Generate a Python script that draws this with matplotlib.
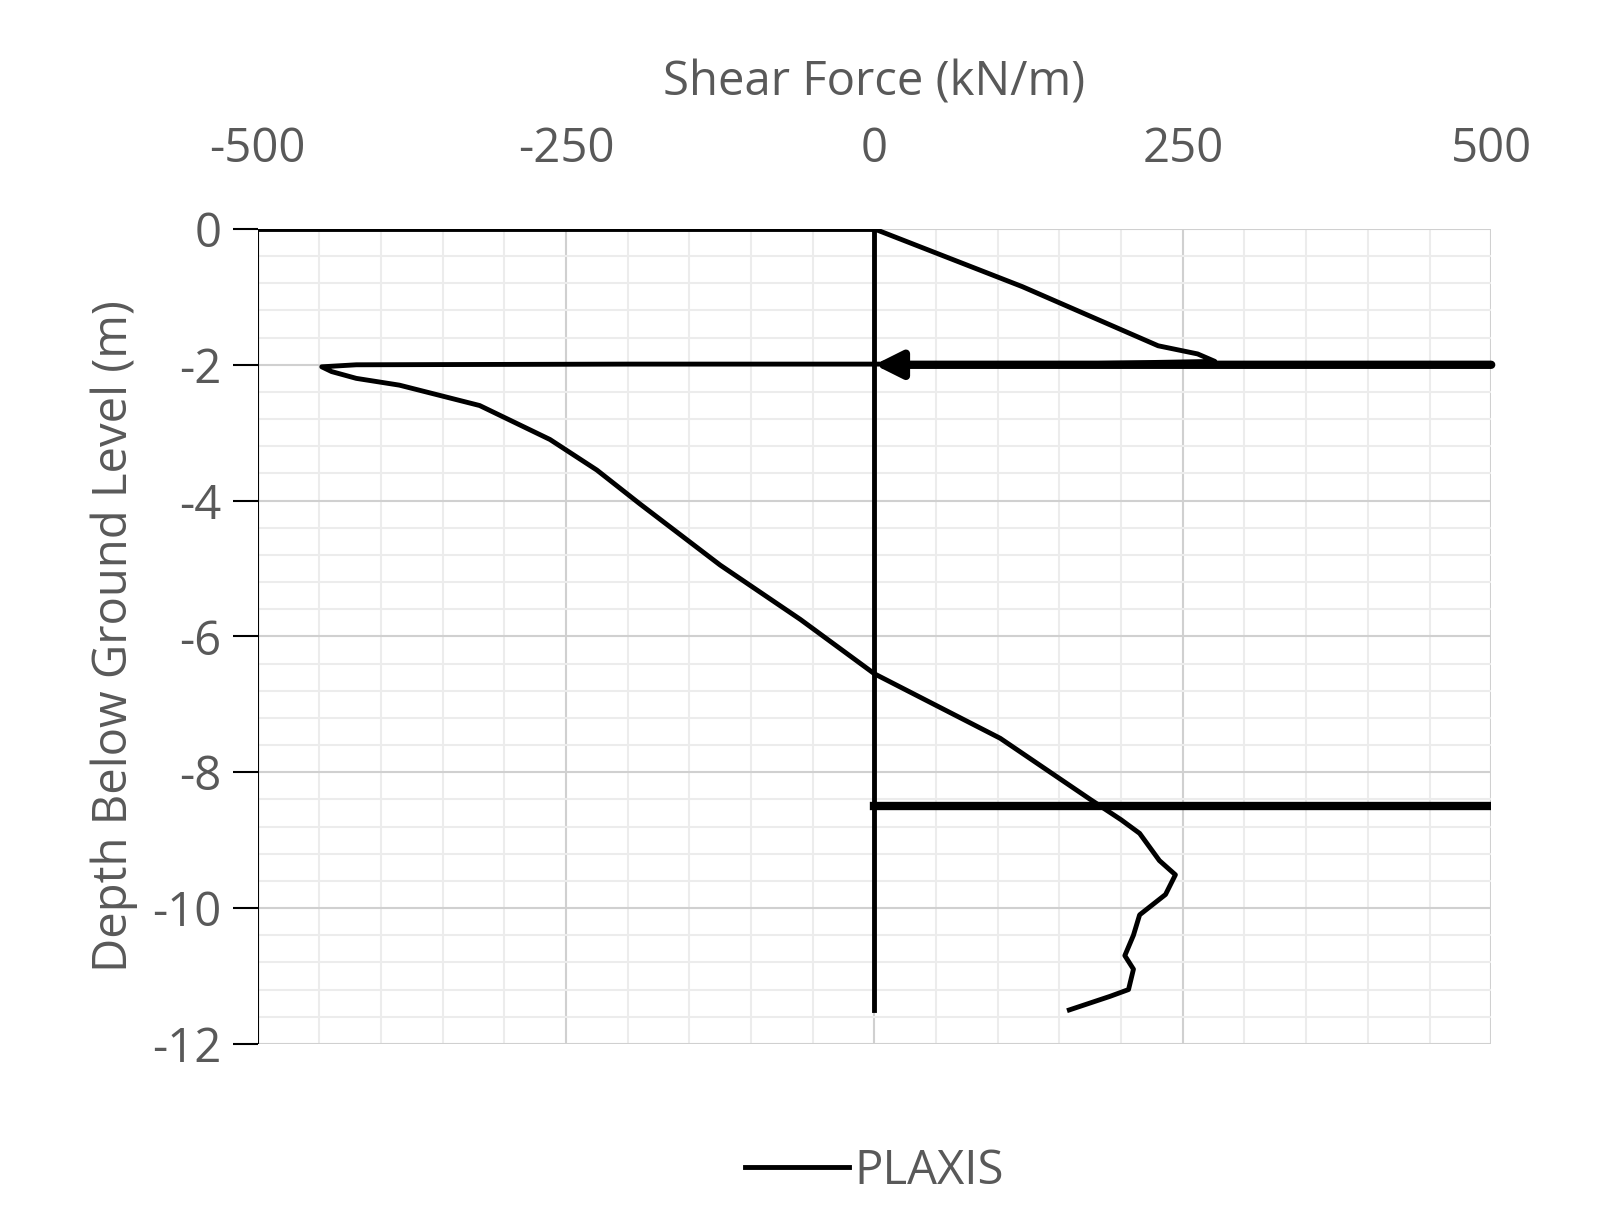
import numpy as np
import matplotlib.pyplot as plt
from matplotlib.ticker import MultipleLocator

plt.rcParams['font.family'] = ['Open Sans', 'DejaVu Sans']
plt.rcParams['axes.unicode_minus'] = False

# PLAXIS shear force profile (kN/m) vs depth (m)
shear = [0, 120, 230, 262, 276, 150, -200, -420, -448, -440, -420, -385, -320, -263,
         -225, -190, -125, -60, 0, 102, 175, 200, 215, 231, 244, 236, 215, 210, 203,
         210, 206, 191, 158]
depth = [0, -0.85, -1.72, -1.84, -1.95, -1.99, -1.99, -2.0, -2.03, -2.1, -2.2, -2.3,
         -2.6, -3.1, -3.55, -4.05, -4.95, -5.75, -6.55, -7.5, -8.4, -8.7, -8.9, -9.3,
         -9.51, -9.8, -10.1, -10.4, -10.7, -10.9, -11.2, -11.3, -11.5]

# structure outline
ground_x = [-500, 0]
ground_y = [0, 0]
wall_x = [0, 0]
wall_y = [0, -11.5]
strut_depth = -2
base_depth = -8.5

grey = '#595959'
fig, ax = plt.subplots(figsize=(16, 12.31), dpi=100)
fig.subplots_adjust(left=0.161, right=0.932, top=0.814, bottom=0.152)

ax.plot(shear, depth, color='black', lw=3.5, label='PLAXIS')
ax.plot(ground_x, ground_y, color='black', lw=3.5)
ax.plot(wall_x, wall_y, color='black', lw=3.5)
ax.plot([0, 500], [base_depth, base_depth], color='black', lw=6)
ax.annotate('', xy=(0, strut_depth), xytext=(500, strut_depth),
            arrowprops=dict(arrowstyle='-|>,head_length=1.6,head_width=0.8',
                            color='black', lw=6, shrinkA=0, shrinkB=0))

ax.set_xlim(-500, 500)
ax.set_ylim(-12, 0)
ax.xaxis.tick_top()
ax.xaxis.set_label_position('top')
ax.xaxis.set_major_locator(MultipleLocator(250))
ax.xaxis.set_minor_locator(MultipleLocator(50))
ax.yaxis.set_major_locator(MultipleLocator(2))
ax.yaxis.set_minor_locator(MultipleLocator(0.4))
ax.grid(which='major', color='#d0d0d0', lw=1.5)
ax.grid(which='minor', color='#ececec', lw=1.5)
ax.set_axisbelow(True)
for s in ax.spines.values():
    s.set_visible(False)
ax.tick_params(which='both', length=0, labelsize=34, colors=grey)
ax.tick_params(axis='x', which='major', pad=40)
ax.tick_params(axis='y', which='major', length=18, width=1.5, color='black', pad=8)
ax.axvline(-500, color='black', lw=1.5, zorder=1)
ax.set_xlabel('Shear Force (kN/m)', fontsize=34, color=grey, labelpad=22)
ax.set_ylabel('Depth Below Ground Level (m)', fontsize=34, color=grey, labelpad=10)

ax.legend(loc='upper center', bbox_to_anchor=(0.5, -0.075), frameon=False,
          fontsize=34, labelcolor=grey, handlelength=2.2, handletextpad=0.1)

fig.savefig('out.png')
